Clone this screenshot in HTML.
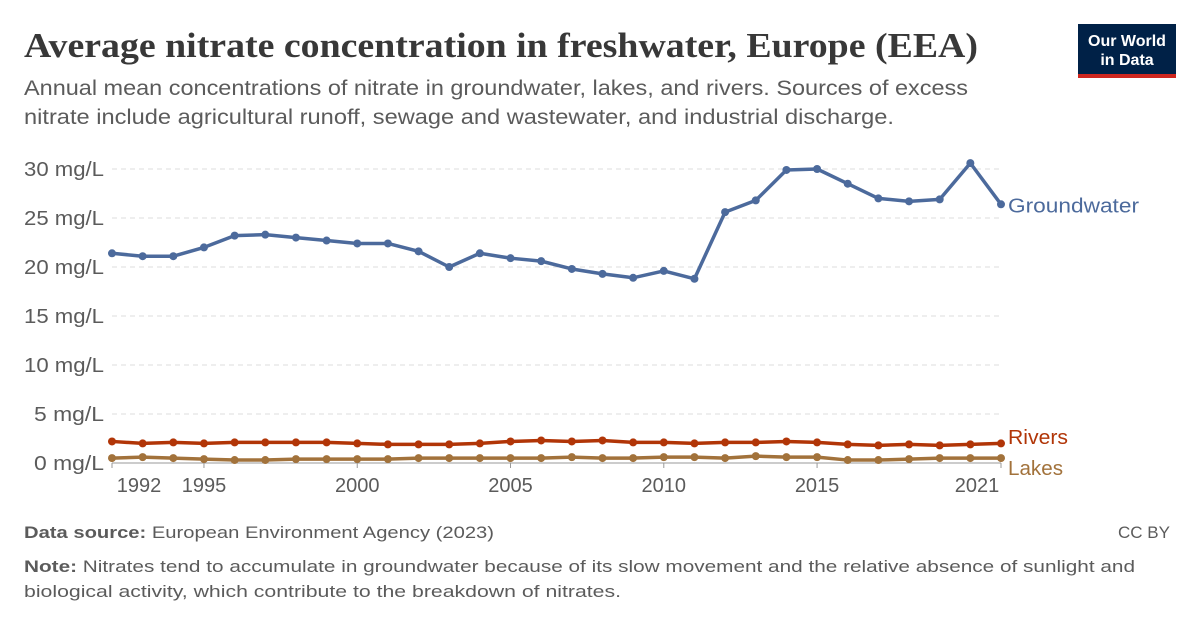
<!DOCTYPE html>
<html><head><meta charset="utf-8">
<style>
body{margin:0;background:#fff;width:1200px;height:627px;overflow:hidden;font-family:"Liberation Sans",sans-serif;}
svg text{font-family:"Liberation Sans",sans-serif;}
</style></head>
<body>
<svg width="1200" height="627" viewBox="0 0 1200 627" id="svg">
<text x="24" y="57" font-size="35" font-weight="bold" fill="#383838" textLength="954" lengthAdjust="spacingAndGlyphs" style="font-family:'Liberation Serif',serif">Average nitrate concentration in freshwater, Europe (EEA)</text>
<text x="24" y="95" font-size="21" fill="#5b5b5b" textLength="944" lengthAdjust="spacingAndGlyphs">Annual mean concentrations of nitrate in groundwater, lakes, and rivers. Sources of excess</text>
<text x="24" y="124" font-size="21" fill="#5b5b5b" textLength="870" lengthAdjust="spacingAndGlyphs">nitrate include agricultural runoff, sewage and wastewater, and industrial discharge.</text>
<g>
<rect x="1078" y="24" width="98" height="54" fill="#002147"/>
<rect x="1078" y="74" width="98" height="4" fill="#ce261e"/>
<text x="1127" y="46" font-size="16" fill="#fff" text-anchor="middle" font-weight="bold">Our World</text>
<text x="1127" y="65" font-size="16" fill="#fff" text-anchor="middle" font-weight="bold">in Data</text>
</g>
<g id="grid"></g>
<g id="series"></g>
<text x="24" y="538" font-size="17" fill="#5b5b5b" textLength="470" lengthAdjust="spacingAndGlyphs"><tspan font-weight="bold">Data source:</tspan> European Environment Agency (2023)</text>
<text x="1170" y="538" font-size="17" fill="#5b5b5b" text-anchor="end">CC BY</text>
<text x="24" y="572" font-size="17" fill="#5b5b5b" textLength="1111" lengthAdjust="spacingAndGlyphs"><tspan font-weight="bold">Note:</tspan> Nitrates tend to accumulate in groundwater because of its slow movement and the relative absence of sunlight and</text>
<text x="24" y="597" font-size="17" fill="#5b5b5b" textLength="597" lengthAdjust="spacingAndGlyphs">biological activity, which contribute to the breakdown of nitrates.</text>
</svg>
<script>
const years=[1992,1993,1994,1995,1996,1997,1998,1999,2000,2001,2002,2003,2004,2005,2006,2007,2008,2009,2010,2011,2012,2013,2014,2015,2016,2017,2018,2019,2020,2021];
const groundwater=[21.4,21.1,21.1,22.0,23.2,23.3,23.0,22.7,22.4,22.4,21.6,20.0,21.4,20.9,20.6,19.8,19.3,18.9,19.6,18.8,25.6,26.8,29.9,30.0,28.5,27.0,26.7,26.9,30.6,26.4];
const rivers=[2.2,2.0,2.1,2.0,2.1,2.1,2.1,2.1,2.0,1.9,1.9,1.9,2.0,2.2,2.3,2.2,2.3,2.1,2.1,2.0,2.1,2.1,2.2,2.1,1.9,1.8,1.9,1.8,1.9,2.0];
const lakes=[0.5,0.6,0.5,0.4,0.3,0.3,0.4,0.4,0.4,0.4,0.5,0.5,0.5,0.5,0.5,0.6,0.5,0.5,0.6,0.6,0.5,0.7,0.6,0.6,0.3,0.3,0.4,0.5,0.5,0.5];
const yTicks=[0,5,10,15,20,25,30];
const yTickLabels=["0 mg/L","5 mg/L","10 mg/L","15 mg/L","20 mg/L","25 mg/L","30 mg/L"];
const xTicks=[1992,1995,2000,2005,2010,2015,2021];
const NS="http://www.w3.org/2000/svg";
const x=y=>112+(y-1992)*(1001-112)/(2021-1992);
const yS=v=>463-v*(463-169)/30;
function mk(t,a,p){const e=document.createElementNS(NS,t);for(const k in a)e.setAttribute(k,a[k]);p.appendChild(e);return e;}
const grid=document.getElementById('grid'),ser=document.getElementById('series');
yTicks.forEach((v,i)=>{
 if(v>0){const l=mk('line',{x1:112,x2:1001,y1:yS(v),y2:yS(v),stroke:'#ddd','stroke-dasharray':'5,4'},grid);
 
 }
 const t=mk('text',{x:104,y:yS(v)+7,'font-size':20,fill:'#5b5b5b','text-anchor':'end',textLength:v>=10?80:70,lengthAdjust:'spacingAndGlyphs'},grid);t.textContent=yTickLabels[i];
 
 
});
const ax=mk('line',{x1:112,x2:1001,y1:463,y2:463,stroke:'#999'},grid);


xTicks.forEach(yr=>{
 mk('line',{x1:x(yr),x2:x(yr),y1:463,y2:468,stroke:'#999'},grid);
 const off=yr===1992?27:(yr===2021?-24:0);
 const t=mk('text',{x:x(yr)+off,y:492,'font-size':20,fill:'#5b5b5b','text-anchor':'middle'},grid);t.textContent=yr;
 
 
});
function draw(vals,color,name,label,ly,tl){
 const g=mk('g',{},ser);
 
 
 mk('polyline',{points:vals.map((v,i)=>x(years[i])+','+yS(v)).join(' '),fill:'none',stroke:color,'stroke-width':3.5,'stroke-linejoin':'round'},g);
 vals.forEach((v,i)=>{const c=mk('circle',{cx:x(years[i]),cy:yS(v),r:4,fill:color},g);
  
  });
 const t=mk('text',{x:1008,y:ly,'font-size':20,fill:color,textLength:tl,lengthAdjust:'spacingAndGlyphs'},ser);t.textContent=label;
 
 
}
draw(lakes,'#a2723b','lakes','Lakes',475,55);
draw(rivers,'#b13507','rivers','Rivers',444,60);
draw(groundwater,'#4c6a9c','groundwater','Groundwater',yS(groundwater[29])+8,131);
</script>
</body></html>
